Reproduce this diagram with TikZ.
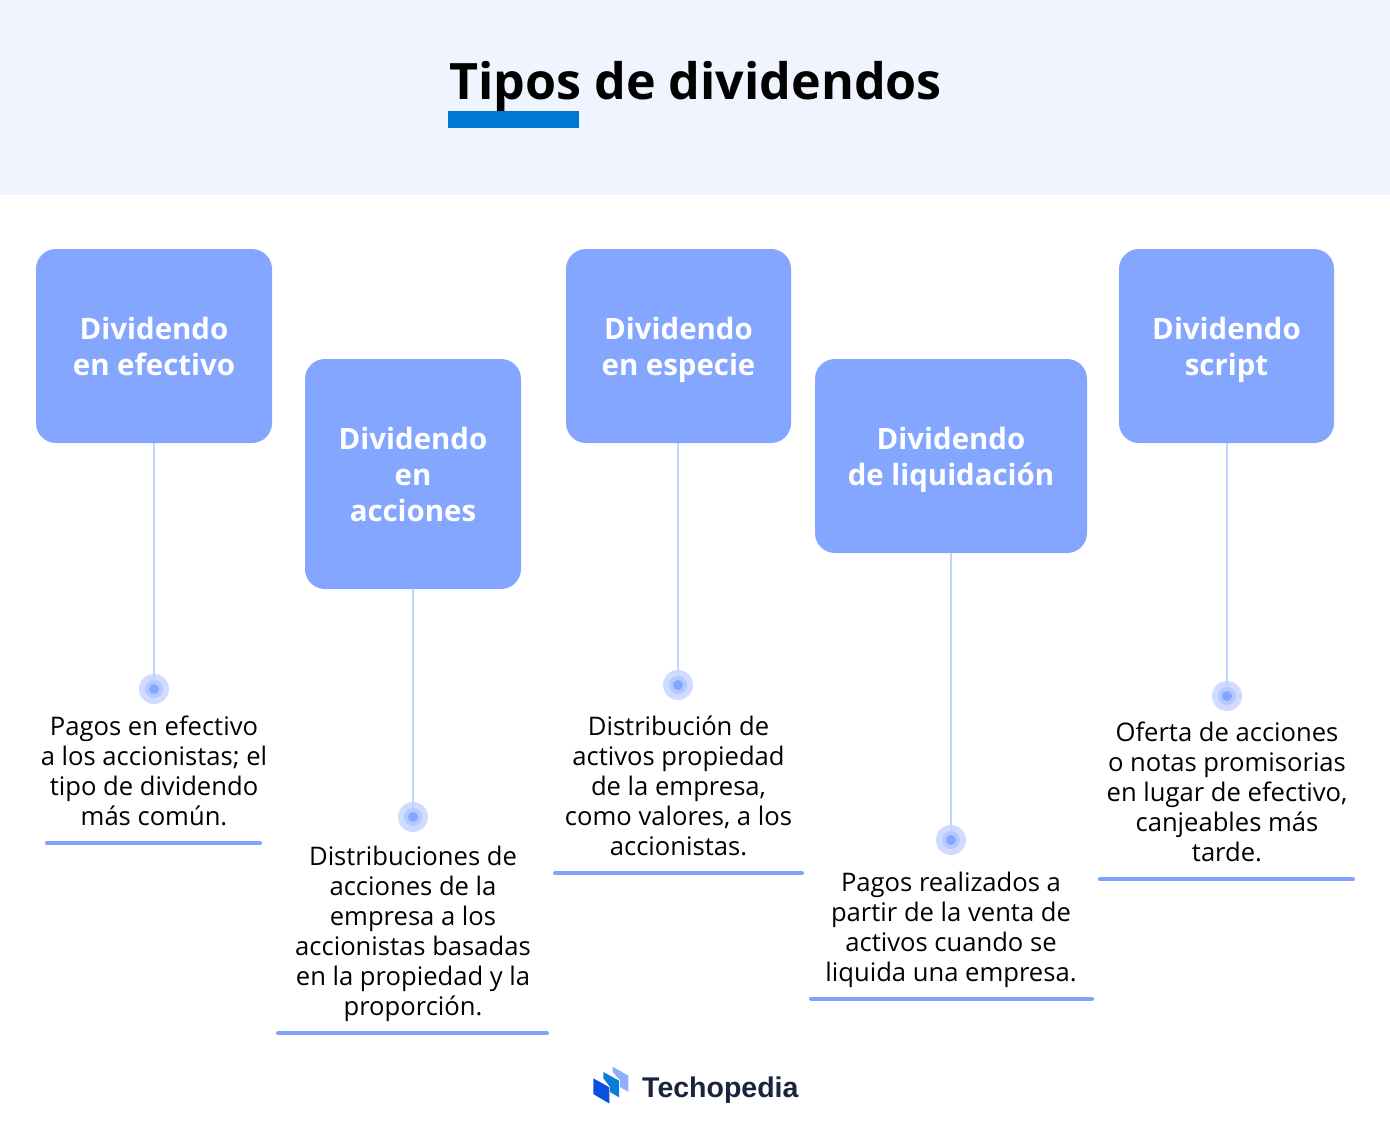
\documentclass[tikz,border=0pt]{standalone}
\usepackage{fontspec}
\setmainfont{Open Sans}
\newfontfamily\logofont{Liberation Sans}
\definecolor{band}{HTML}{F0F4FF}
\definecolor{boxblue}{HTML}{84A6FF}
\definecolor{linkline}{HTML}{C3D3FF}
\definecolor{halo}{HTML}{CFDCFF}
\definecolor{halotwo}{HTML}{B4C9FF}
\definecolor{rule}{HTML}{7FA2FB}
\definecolor{accent}{HTML}{0078D2}
\definecolor{logoa}{HTML}{0A50DC}
\definecolor{logob}{HTML}{0A7CD8}
\definecolor{logoc}{HTML}{8FAEFF}
\definecolor{logotext}{HTML}{1A2340}
\tikzset{
  x=1pt,y=-1pt,
  card/.style={draw=none,fill=boxblue,rounded corners=20pt,inner sep=0pt,text=white,align=center,
    font=\fontsize{29.4}{36}\selectfont\bfseries},
  body/.style={inner sep=0pt,align=center,text=black,font=\fontsize{25.6}{30}\selectfont},
  link/.style={draw=linkline,line width=2pt},
  haloA/.style={circle,fill=halo,minimum size=30pt,inner sep=0pt},
  haloB/.style={circle,fill=halotwo,minimum size=18pt,inner sep=0pt},
  haloC/.style={circle,fill=boxblue,minimum size=10pt,inner sep=0pt},
  underrule/.style={draw=rule,line width=4pt,line cap=round},
}
\newcommand{\topgap}{\rule{0pt}{33.2pt}}
\newcommand{\cardat}[6]{% name, x1, y1, x2, y2, text
  \node[card,minimum width=#4-#2,minimum height=#5-#3] (#1) at ({(#2+#4)/2},{(#3+#5)/2}) {#6};}
\begin{document}
\begin{tikzpicture}
\useasboundingbox (0,0) rectangle (1390,1138);
\fill[white] (0,0) rectangle (1390,1138);
\fill[band] (0,0) rectangle (1390,195);
\fill[accent] (448,111) rectangle (579,128);
\node[inner sep=0pt,anchor=base,font=\fontsize{50.2}{60}\selectfont\bfseries] (title) at (695.5,99) {Tipos de dividendos};

\cardat{c1}{36}{249}{272}{443}{\topgap Dividendo\\\strut en efectivo}
\cardat{c2}{305}{359}{521}{589}{\topgap Dividendo\\\strut en\\\strut acciones}
\cardat{c3}{566}{249}{791}{443}{\topgap Dividendo\\\strut en especie}
\cardat{c4}{815}{359}{1087}{553}{\topgap Dividendo\\\strut de liquidación}
\cardat{c5}{1119}{249}{1334}{443}{\topgap Dividendo\\\strut script}

\foreach \n/\x/\y in {1/154/689,2/413/817,3/678/685,4/951/840,5/1227/696}{
  \node[haloA] (d\n) at (\x,\y) {};
  \draw[link] (c\n.south -| d\n.center) -- (d\n.center);
  \node[haloB] at (d\n) {};
  \node[haloC] at (d\n) {};
}

\node[body,anchor=north] (t1) at (154,716) {Pagos en efectivo\\a los accionistas; el\\tipo de dividendo\\más común.};
\node[body,anchor=north] (t2) at (413,846) {Distribuciones de\\acciones de la\\empresa a los\\accionistas basadas\\en la propiedad y la\\proporción.};
\node[body,anchor=north] (t3) at (678.5,716) {Distribución de\\activos propiedad\\de la empresa,\\como valores, a los\\accionistas.};
\node[body,anchor=north] (t4) at (951,872) {Pagos realizados a\\partir de la venta de\\activos cuando se\\liquida una empresa.};
\node[body,anchor=north] (t5) at (1227,722) {Oferta de acciones\\o notas promisorias\\en lugar de efectivo,\\canjeables más\\tarde.};

\draw[underrule] (47,843) -- (260,843);
\draw[underrule] (278,1033) -- (547,1033);
\draw[underrule] (555,873) -- (802,873);
\draw[underrule] (811,998.5) -- (1092,998.5);
\draw[underrule] (1100,879) -- (1353,879);

\fill[logoc] (612.7,1066.7) -- (628.3,1075.7) -- (628.3,1091.7) -- (620,1087) -- (620,1080) -- (612.7,1072) -- cycle;
\fill[logob] (603.3,1072) -- (619,1080.7) -- (619,1097.3) -- (610,1092) -- (610,1087) -- (603.3,1078) -- cycle;
\fill[logoa] (593.3,1078.3) -- (609.3,1087.3) -- (609.3,1103.5) -- (593.3,1094) -- cycle;
\node[inner sep=0pt,anchor=base west,text=logotext,font=\logofont\fontsize{28.5}{32}\selectfont\bfseries] (logo) at (642,1097) {Techopedia};
\end{tikzpicture}
\end{document}
